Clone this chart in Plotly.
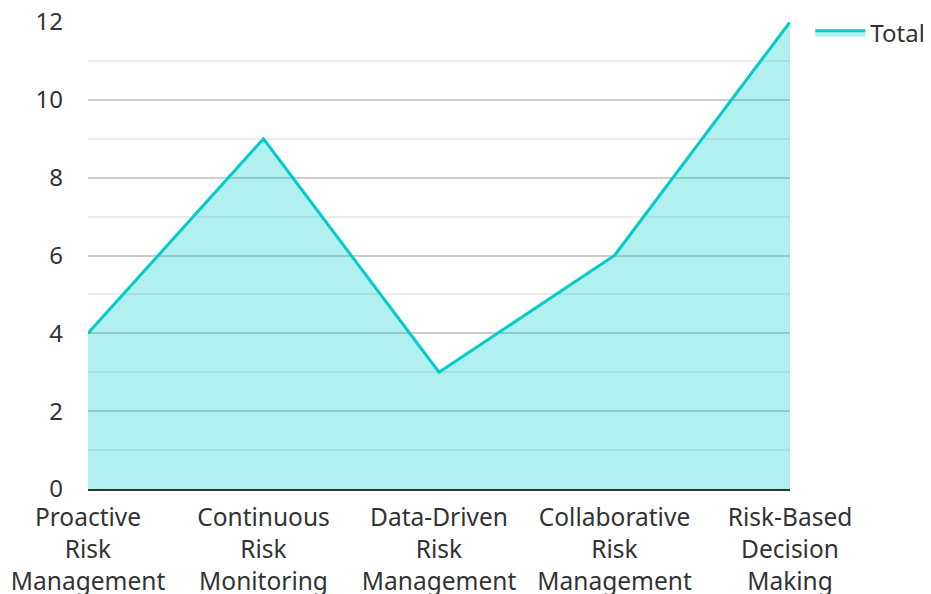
import plotly.graph_objects as go

categories = ["Proactive<br>Risk<br>Management", "Continuous<br>Risk<br>Monitoring",
              "Data-Driven<br>Risk<br>Management", "Collaborative<br>Risk<br>Management",
              "Risk-Based<br>Decision<br>Making"]
values = [4, 9, 3, 6, 12]
y_ticks = [0, 2, 4, 6, 8, 10, 12]

fig = go.Figure()
fig.add_trace(go.Scatter(
    x=categories, y=values, name="Total", mode="lines",
    line=dict(color="#00CCCC", width=3),
    fill="tozeroy", fillcolor="rgba(0,204,204,0.3)",
))

font = "Noto Sans"
fs = 24
fig.update_layout(
    width=931, height=594,
    margin=dict(l=80, r=149, t=14, b=113, autoexpand=False),
    paper_bgcolor="white", plot_bgcolor="white",
    font=dict(family=font, size=fs, color="#333333"),
    showlegend=True,
    legend=dict(x=1.029, y=0.976, xanchor="left", yanchor="middle",
                font=dict(size=fs, color="#333333"), itemwidth=50),
    xaxis=dict(showgrid=False, showline=True, linecolor="#333333", linewidth=2,
               range=[0, 4], ticks="", ticklabelstandoff=6, automargin=False,
               ticklabeloverflow="allow",
               tickfont=dict(size=24.5, color="#333333")),
    yaxis=dict(range=[0, 12], tickvals=y_ticks, showline=False, zeroline=False,
               gridcolor="#CCCCCC", gridwidth=1.5, automargin=False,
               ticklabeloverflow="allow",
               minor=dict(dtick=1, showgrid=True, gridcolor="#EBEBEB", gridwidth=1.5),
               ticks="", ticklabelstandoff=24,
               tickfont=dict(size=fs, color="#333333")),
)

fig.write_html("out.html")
